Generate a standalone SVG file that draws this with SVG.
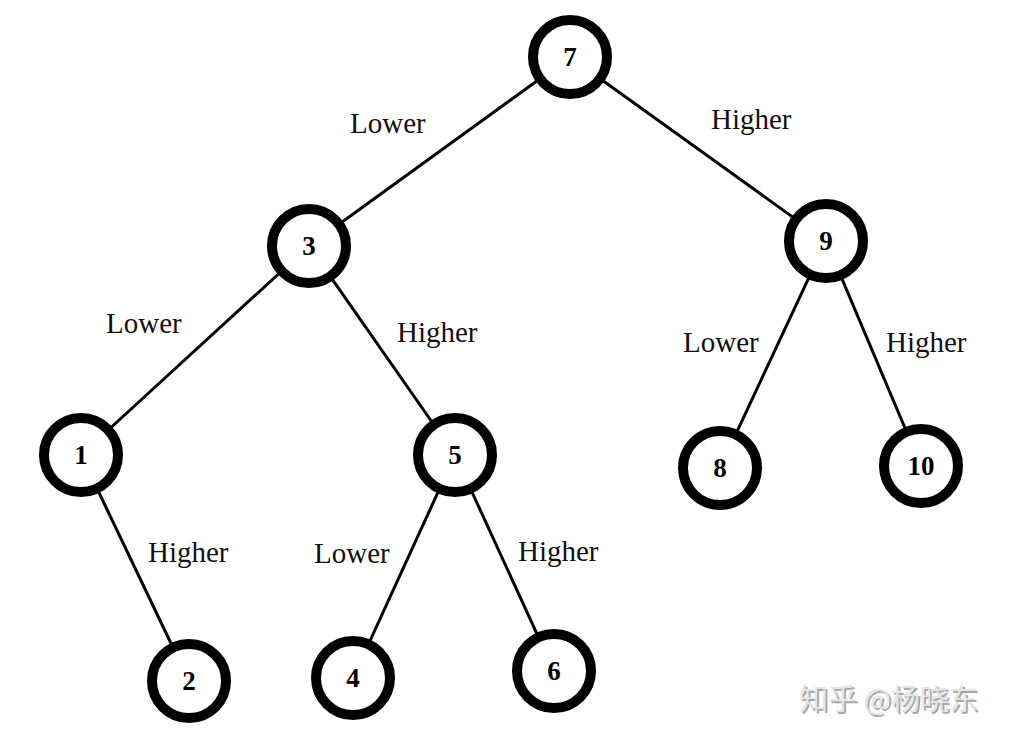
<svg xmlns="http://www.w3.org/2000/svg" width="1012" height="740" viewBox="0 0 1012 740">
<style>
.edge{stroke:#000;stroke-width:3;fill:none}
.node circle{fill:#fff;stroke:#000;stroke-width:10}
.node text{font-family:"Liberation Serif","Times New Roman",serif;font-weight:bold;font-size:27px;text-anchor:middle;dominant-baseline:central;fill:#000}
.lbl{font-family:"Liberation Serif","Times New Roman",serif;font-size:29px;fill:#111}
.wm{font-family:"Noto Sans CJK SC","Liberation Sans",sans-serif;font-size:29px}
</style>
<rect width="1012" height="740" fill="#fff"/>
<g id="connectors">
<line class="edge" x1="570" y1="57" x2="309" y2="246"/>
<line class="edge" x1="570" y1="57" x2="826" y2="241"/>
<line class="edge" x1="309" y1="246" x2="81" y2="455"/>
<line class="edge" x1="309" y1="246" x2="455" y2="455"/>
<line class="edge" x1="826" y1="241" x2="720" y2="468"/>
<line class="edge" x1="826" y1="241" x2="921" y2="466"/>
<line class="edge" x1="81" y1="455" x2="189" y2="681"/>
<line class="edge" x1="455" y1="455" x2="353" y2="678"/>
<line class="edge" x1="455" y1="455" x2="554" y2="671"/>
</g>
<g id="labels">
<text class="lbl" x="350" y="133">Lower</text>
<text class="lbl" x="711" y="129">Higher</text>
<text class="lbl" x="106" y="333">Lower</text>
<text class="lbl" x="397" y="342">Higher</text>
<text class="lbl" x="683" y="352">Lower</text>
<text class="lbl" x="886" y="352">Higher</text>
<text class="lbl" x="148" y="562">Higher</text>
<text class="lbl" x="314" y="563">Lower</text>
<text class="lbl" x="518" y="561">Higher</text>
</g>
<g id="n7" class="node"><circle cx="570" cy="57" r="37"/><text x="570" y="57">7</text></g>
<g id="n3" class="node"><circle cx="309" cy="246" r="37"/><text x="309" y="246">3</text></g>
<g id="n9" class="node"><circle cx="826" cy="241" r="37"/><text x="826" y="241">9</text></g>
<g id="n1" class="node"><circle cx="81" cy="455" r="37"/><text x="81" y="455">1</text></g>
<g id="n5" class="node"><circle cx="455" cy="455" r="37"/><text x="455" y="455">5</text></g>
<g id="n8" class="node"><circle cx="720" cy="468" r="37"/><text x="720" y="468">8</text></g>
<g id="n10" class="node"><circle cx="921" cy="466" r="37"/><text x="921" y="466">10</text></g>
<g id="n2" class="node"><circle cx="189" cy="681" r="37"/><text x="189" y="681">2</text></g>
<g id="n4" class="node"><circle cx="353" cy="678" r="37"/><text x="353" y="678">4</text></g>
<g id="n6" class="node"><circle cx="554" cy="671" r="37"/><text x="554" y="671">6</text></g>
<g id="watermark">
<text class="wm" x="801" y="712" fill="#a8a8a8">知乎 @杨晓东</text>
<text class="wm" x="799" y="710" fill="#e4e4e4">知乎 @杨晓东</text>
</g>
</svg>
